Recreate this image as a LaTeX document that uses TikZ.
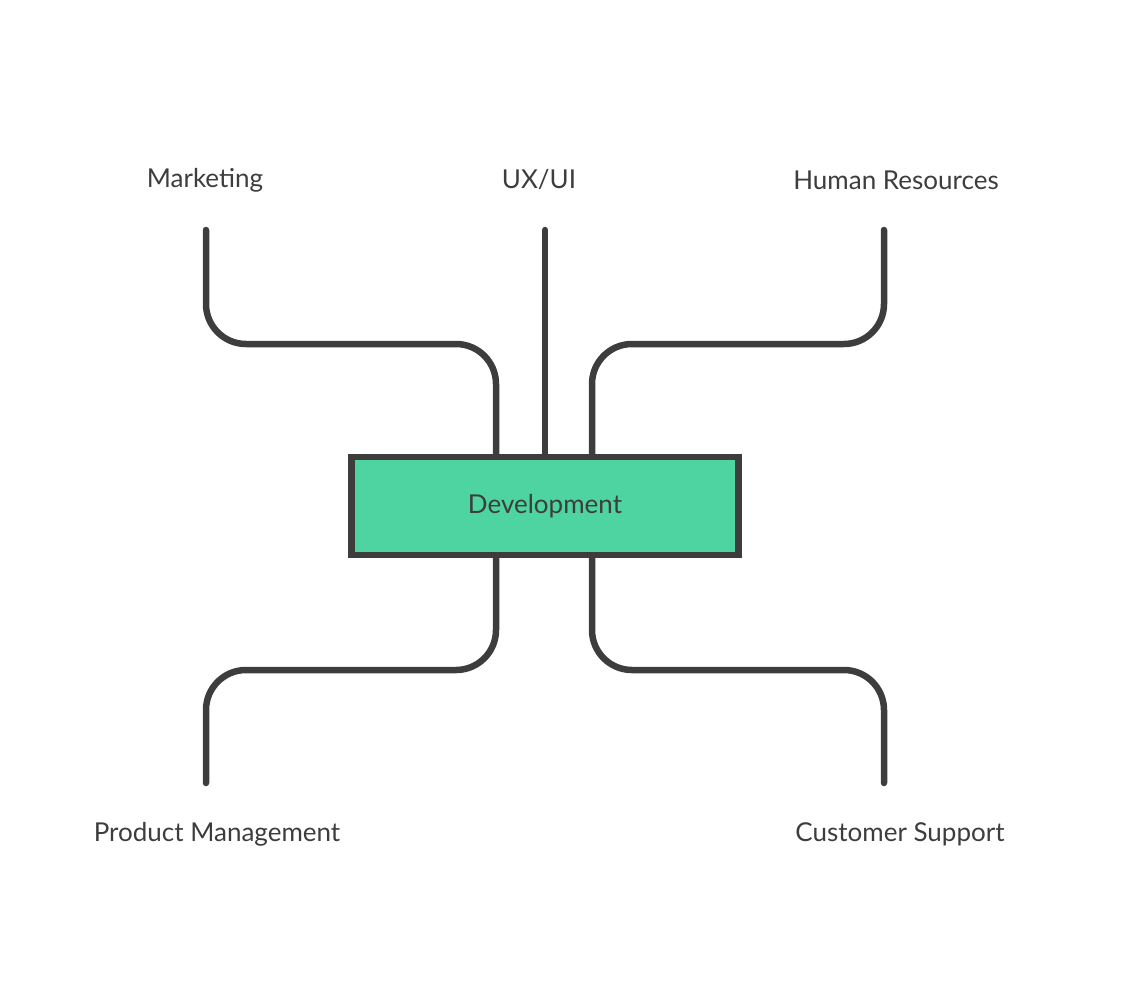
\documentclass[tikz,border=0pt]{standalone}
\usepackage{fontspec}
\setmainfont{Lato}
\definecolor{ln}{HTML}{3D3D3D}
\definecolor{gr}{HTML}{4DD4A0}
\begin{document}
\begin{tikzpicture}[x=1pt,y=-1pt,
  lbl/.style={text=ln,font=\fontsize{26}{30}\selectfont,inner sep=0pt},
  conn/.style={draw=ln,line width=6.5pt,rounded corners=40pt,line cap=round}]
\useasboundingbox (0,0) rectangle (1121,985);
\node[draw=ln,line width=6.5pt,fill=gr,minimum width=387pt,minimum height=98pt,inner sep=0pt,lbl] (dev) at (545,506) {Development};
\node[lbl] (mk) at (205,180) {Marketing};
\node[lbl] (ux) at (539,180) {UX/UI};
\node[lbl] (hr) at (896,180) {Human Resources};
\node[lbl] (pm) at (217,834) {Product Management};
\node[lbl] (cs) at (900,834) {Customer Support};
\coordinate (mkS) at (206,230);
\coordinate (uxS) at (545,230);
\coordinate (hrS) at (884,230);
\coordinate (pmE) at (206,783);
\coordinate (csE) at (884,783);
\draw[conn] (mkS) -- (206,344) -- (496,344) -- (496,456);
\draw[conn,line cap=butt] (uxS) -- (545,456);
\draw[conn] (hrS) -- (884,344) -- (592,344) -- (592,456);
\draw[conn] (496,556) -- (496,670) -- (206,670) -- (pmE);
\draw[conn] (592,556) -- (592,670) -- (884,670) -- (csE);
\draw[line cap=round,draw=ln,line width=6.5pt] (uxS) -- ++(0,0.1);
\end{tikzpicture}
\end{document}
